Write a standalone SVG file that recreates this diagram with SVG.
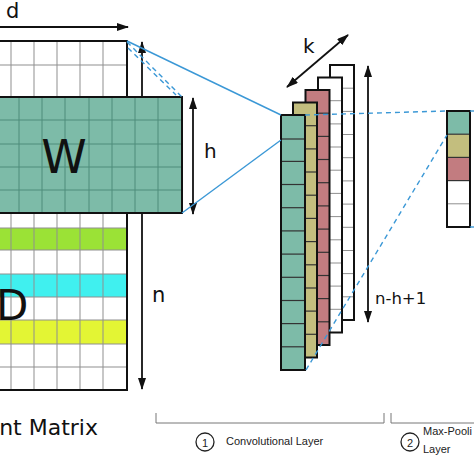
<svg xmlns="http://www.w3.org/2000/svg" width="474" height="474" viewBox="0 0 474 474">
<style>
.lbl{font-family:"DejaVu Sans",sans-serif;fill:#111}
.cap{font-family:"Liberation Sans",Arial,sans-serif;fill:#222;font-size:11px}
.border{stroke:#111;stroke-width:2}
.grid{stroke:#8f8f8f;stroke-width:1}
.wgrid{stroke:#4e8c7b;stroke-width:1}
.dk{stroke:#333;stroke-width:1.2}
.arr{stroke:#111;stroke-width:1.8;fill:none}
.blue{stroke:#3b98d6;stroke-width:1.4;fill:none}
.dash{stroke-dasharray:5 4}
.teal{fill:#7dbba8}
.olive{fill:#c3be7e}
.red{fill:#c27c80}
</style>
<defs>
<marker id="ah" viewBox="0 0 12 8" refX="11" refY="4" markerWidth="12" markerHeight="8" markerUnits="userSpaceOnUse" orient="auto-start-reverse">
<path d="M0,0 L12,4 L0,8 Z" fill="#111"/>
</marker>
</defs>

<g id="connectors-under">
<line class="arr" x1="142" y1="42" x2="142" y2="389" marker-start="url(#ah)" marker-end="url(#ah)"/>
</g>

<g id="doc-matrix">
<rect x="-5" y="41" width="132" height="349" fill="#fff"/>
<rect x="-5" y="228" width="132" height="22" fill="#9be236"/>
<rect x="-5" y="274" width="132" height="23" fill="#40f0ef"/>
<rect x="-5" y="320" width="132" height="24" fill="#e3f534"/>
<g class="grid">
<line x1="11" y1="41" x2="11" y2="390"/>
<line x1="34" y1="41" x2="34" y2="390"/>
<line x1="57" y1="41" x2="57" y2="390"/>
<line x1="80" y1="41" x2="80" y2="390"/>
<line x1="103" y1="41" x2="103" y2="390"/>
<line x1="-5" y1="65" x2="127" y2="65"/>
<line x1="-5" y1="228" x2="127" y2="228"/>
<line x1="-5" y1="250" x2="127" y2="250"/>
<line x1="-5" y1="274" x2="127" y2="274"/>
<line x1="-5" y1="297" x2="127" y2="297"/>
<line x1="-5" y1="320" x2="127" y2="320"/>
<line x1="-5" y1="344" x2="127" y2="344"/>
<line x1="-5" y1="367" x2="127" y2="367"/>
</g>
<rect x="-5" y="41" width="132" height="349" fill="none" class="border"/>
<text class="lbl" x="-4" y="320" font-size="42">D</text>
</g>

<g id="filter-w">
<rect x="-5" y="97" width="187" height="116" class="teal"/>
<g class="wgrid">
<line x1="19" y1="97" x2="19" y2="213"/>
<line x1="42" y1="97" x2="42" y2="213"/>
<line x1="65" y1="97" x2="65" y2="213"/>
<line x1="89" y1="97" x2="89" y2="213"/>
<line x1="112" y1="97" x2="112" y2="213"/>
<line x1="135" y1="97" x2="135" y2="213"/>
<line x1="158" y1="97" x2="158" y2="213"/>
<line x1="-5" y1="120" x2="182" y2="120"/>
<line x1="-5" y1="144" x2="182" y2="144"/>
<line x1="-5" y1="167" x2="182" y2="167"/>
<line x1="-5" y1="190" x2="182" y2="190"/>
</g>
<rect x="-5" y="97" width="187" height="116" fill="none" class="border"/>
<text class="lbl" x="64" y="173" font-size="46" text-anchor="middle">W</text>
</g>

<g id="col5">
<rect x="330" y="65" width="24" height="255" fill="#fff"/>
<g class="grid">
<line x1="330" y1="88.2" x2="354" y2="88.2"/><line x1="330" y1="111.4" x2="354" y2="111.4"/><line x1="330" y1="134.5" x2="354" y2="134.5"/><line x1="330" y1="157.7" x2="354" y2="157.7"/><line x1="330" y1="180.9" x2="354" y2="180.9"/><line x1="330" y1="204.1" x2="354" y2="204.1"/><line x1="330" y1="227.3" x2="354" y2="227.3"/><line x1="330" y1="250.5" x2="354" y2="250.5"/><line x1="330" y1="273.6" x2="354" y2="273.6"/><line x1="330" y1="296.8" x2="354" y2="296.8"/>
</g>
<rect x="330" y="65" width="24" height="255" fill="none" class="border"/>
</g>
<g id="col4">
<rect x="318" y="77.5" width="24" height="255" fill="#fff"/>
<g class="grid">
<line x1="318" y1="100.7" x2="342" y2="100.7"/><line x1="318" y1="123.9" x2="342" y2="123.9"/><line x1="318" y1="147" x2="342" y2="147"/><line x1="318" y1="170.2" x2="342" y2="170.2"/><line x1="318" y1="193.4" x2="342" y2="193.4"/><line x1="318" y1="216.6" x2="342" y2="216.6"/><line x1="318" y1="239.8" x2="342" y2="239.8"/><line x1="318" y1="263" x2="342" y2="263"/><line x1="318" y1="286.1" x2="342" y2="286.1"/><line x1="318" y1="309.3" x2="342" y2="309.3"/>
</g>
<rect x="318" y="77.5" width="24" height="255" fill="none" class="border"/>
</g>
<g id="col3">
<rect x="305.5" y="90" width="24" height="255" class="red"/>
<g class="dk">
<line x1="305.5" y1="113.2" x2="329.5" y2="113.2"/><line x1="305.5" y1="136.4" x2="329.5" y2="136.4"/><line x1="305.5" y1="159.5" x2="329.5" y2="159.5"/><line x1="305.5" y1="182.7" x2="329.5" y2="182.7"/><line x1="305.5" y1="205.9" x2="329.5" y2="205.9"/><line x1="305.5" y1="229.1" x2="329.5" y2="229.1"/><line x1="305.5" y1="252.3" x2="329.5" y2="252.3"/><line x1="305.5" y1="275.5" x2="329.5" y2="275.5"/><line x1="305.5" y1="298.6" x2="329.5" y2="298.6"/><line x1="305.5" y1="321.8" x2="329.5" y2="321.8"/>
</g>
<rect x="305.5" y="90" width="24" height="255" fill="none" class="border"/>
</g>
<g id="col2">
<rect x="293" y="102.5" width="24" height="255" class="olive"/>
<g class="dk">
<line x1="293" y1="125.7" x2="317" y2="125.7"/><line x1="293" y1="148.9" x2="317" y2="148.9"/><line x1="293" y1="172" x2="317" y2="172"/><line x1="293" y1="195.2" x2="317" y2="195.2"/><line x1="293" y1="218.4" x2="317" y2="218.4"/><line x1="293" y1="241.6" x2="317" y2="241.6"/><line x1="293" y1="264.8" x2="317" y2="264.8"/><line x1="293" y1="288" x2="317" y2="288"/><line x1="293" y1="311.1" x2="317" y2="311.1"/><line x1="293" y1="334.3" x2="317" y2="334.3"/>
</g>
<rect x="293" y="102.5" width="24" height="255" fill="none" class="border"/>
</g>
<g id="col1">
<rect x="281" y="115" width="24" height="255" class="teal"/>
<g class="dk">
<line x1="281" y1="139" x2="305" y2="139"/><line x1="281" y1="161.4" x2="305" y2="161.4"/><line x1="281" y1="184.5" x2="305" y2="184.5"/><line x1="281" y1="207.7" x2="305" y2="207.7"/><line x1="281" y1="230.9" x2="305" y2="230.9"/><line x1="281" y1="254.1" x2="305" y2="254.1"/><line x1="281" y1="277.3" x2="305" y2="277.3"/><line x1="281" y1="300.5" x2="305" y2="300.5"/><line x1="281" y1="323.6" x2="305" y2="323.6"/><line x1="281" y1="346.8" x2="305" y2="346.8"/>
</g>
<rect x="281" y="115" width="24" height="255" fill="none" class="border"/>
</g>

<g id="maxpool">
<rect x="447" y="111" width="23" height="23.2" class="teal"/>
<rect x="447" y="134.2" width="23" height="23.2" class="olive"/>
<rect x="447" y="157.4" width="23" height="23.2" class="red"/>
<rect x="447" y="180.6" width="23" height="46.4" fill="#fff"/>
<g class="dk">
<line x1="447" y1="134.2" x2="470" y2="134.2"/>
<line x1="447" y1="157.4" x2="470" y2="157.4"/>
<line x1="447" y1="180.6" x2="470" y2="180.6"/>
</g>
<line x1="447" y1="203.8" x2="470" y2="203.8" class="grid"/>
<rect x="447" y="111" width="23" height="116" fill="none" class="border"/>
</g>

<g id="connectors">
<line class="arr" x1="-5" y1="27" x2="128" y2="27" marker-end="url(#ah)"/>
<line class="arr" x1="193" y1="98" x2="193" y2="214" marker-start="url(#ah)" marker-end="url(#ah)"/>
<line class="arr" x1="287" y1="87" x2="348" y2="35" marker-start="url(#ah)" marker-end="url(#ah)"/>
<line class="arr" x1="368" y1="66" x2="368" y2="322" marker-start="url(#ah)" marker-end="url(#ah)"/>
<line class="blue" x1="127" y1="41" x2="281" y2="115"/>
<line class="blue" x1="182" y1="213" x2="281" y2="140"/>
<line class="blue dash" x1="127" y1="42" x2="182" y2="97"/>
<line class="blue dash" x1="128" y1="48" x2="176" y2="95"/>
<line class="blue dash" x1="305" y1="115" x2="447" y2="111"/>
<line class="blue dash" x1="306" y1="370" x2="447" y2="135"/>
<line class="blue dash" x1="470" y1="111" x2="476" y2="111"/>
<line class="blue dash" x1="470" y1="227" x2="476" y2="227"/>
</g>

<g id="labels">
<text class="lbl" x="6" y="18" font-size="21">d</text>
<text class="lbl" x="152" y="302" font-size="21">n</text>
<text class="lbl" x="204" y="158" font-size="20">h</text>
<text class="lbl" x="303" y="53" font-size="20">k</text>
<text class="lbl" x="375" y="304" font-size="16.5">n-h+1</text>
<text class="lbl" x="98" y="435" font-size="22" text-anchor="end">ent Matrix</text>
</g>

<g id="legend">
<path d="M156,413 V423 H384 V413" fill="none" stroke="#777" stroke-width="1"/>
<path d="M391,413 V423 H476" fill="none" stroke="#777" stroke-width="1"/>
<circle cx="205" cy="442" r="9" fill="#fff" stroke="#222" stroke-width="1.3"/>
<text class="cap" x="205" y="447" font-size="14" text-anchor="middle">1</text>
<text class="cap" x="226" y="445">Convolutional Layer</text>
<circle cx="410" cy="442" r="9" fill="#fff" stroke="#222" stroke-width="1.3"/>
<text class="cap" x="410" y="447" font-size="14" text-anchor="middle">2</text>
<text class="cap" x="423" y="435">Max-Pooli</text>
<text class="cap" x="423" y="453">Layer</text>
</g>
</svg>
